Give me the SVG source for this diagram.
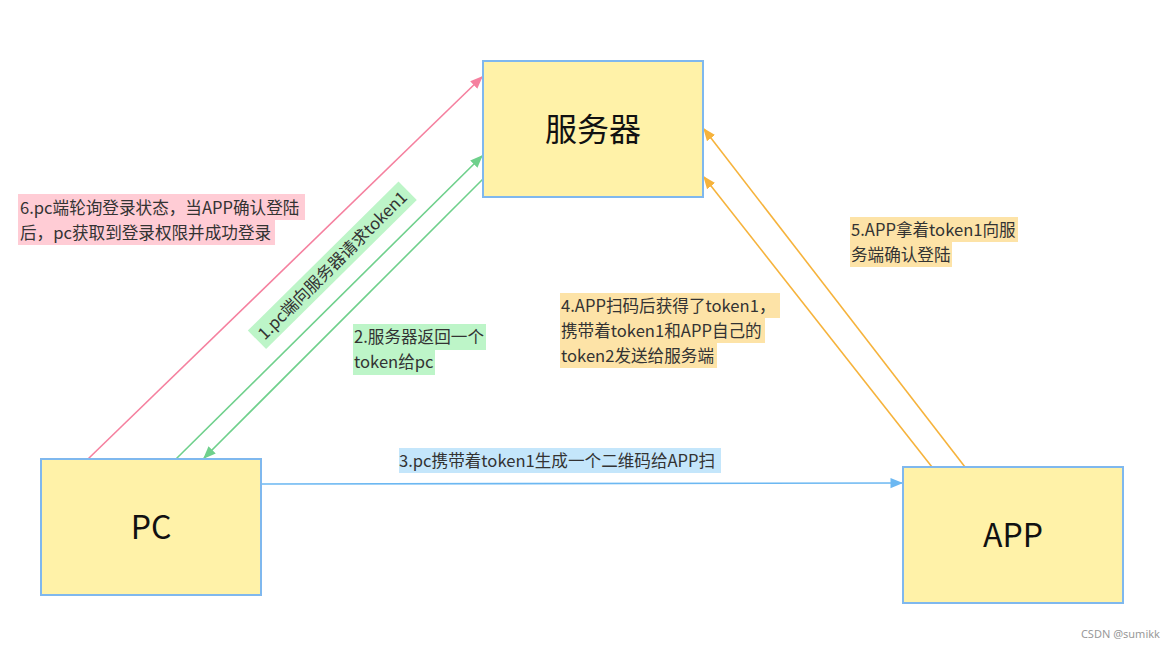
<svg xmlns="http://www.w3.org/2000/svg" width="1173" height="648" viewBox="0 0 1173 648">
<style>
.box{fill:#fff2a8;stroke:#7fb8ee;stroke-width:2}
.big{font-family:"Noto Sans CJK SC","Noto Sans",sans-serif;font-size:32px;fill:#111;text-anchor:middle}
.lbl{font-family:"Noto Sans CJK SC","Noto Sans",sans-serif;font-size:16.6px;fill:#333}
.ln{fill:none;stroke-width:1.6}
</style>
<defs>
<marker id="ag" viewBox="0 0 10 10" refX="9" refY="5" markerWidth="8" markerHeight="8" orient="auto"><path d="M0,1L10,5L0,9z" fill="#6fd08c"/></marker>
<marker id="ap" viewBox="0 0 10 10" refX="9" refY="5" markerWidth="8" markerHeight="8" orient="auto"><path d="M0,1L10,5L0,9z" fill="#f5809f"/></marker>
<marker id="ab" viewBox="0 0 10 10" refX="9" refY="5" markerWidth="8" markerHeight="8" orient="auto"><path d="M0,1L10,5L0,9z" fill="#6cb8f2"/></marker>
<marker id="ao" viewBox="0 0 10 10" refX="9" refY="5" markerWidth="8" markerHeight="8" orient="auto"><path d="M0,1L10,5L0,9z" fill="#f6b33c"/></marker>
</defs>
<rect width="1173" height="648" fill="#fff"/>
<g id="connectors">
<path class="ln" stroke="#f5809f" d="M88,459L482,77" marker-end="url(#ap)"/>
<path class="ln" stroke="#6fd08c" d="M176,459L482,156" marker-end="url(#ag)"/>
<path class="ln" stroke="#6fd08c" d="M483,179L204,458" marker-end="url(#ag)"/>
<path class="ln" stroke="#6cb8f2" d="M262,484L902,483" marker-end="url(#ab)"/>
<path class="ln" stroke="#f6b33c" d="M932,467L704,177" marker-end="url(#ao)"/>
<path class="ln" stroke="#f6b33c" d="M965,467L704,129" marker-end="url(#ao)"/>
</g>
<g id="server"><rect class="box" x="483" y="61" width="220" height="136"/><text class="big" x="593" y="141">服务器</text></g>
<g id="pc"><rect class="box" x="41" y="459" width="220" height="136"/><text class="big" x="151" y="539">PC</text></g>
<g id="app"><rect class="box" x="903" y="467" width="220" height="136"/><text class="big" x="1013" y="547">APP</text></g>
<g id="labels">
<rect x="18" y="194" width="287" height="26" fill="#ffccd5"/><rect x="18" y="220" width="257" height="25" fill="#ffccd5"/>
<text class="lbl" x="20" y="214">6.pc端轮询登录状态，当APP确认登陆</text>
<text class="lbl" x="20" y="239">后，pc获取到登录权限并成功登录</text>
<g transform="translate(333,266) rotate(-44.7)">
<rect x="-106" y="-14" width="212" height="26" fill="#bdf5c8"/>
<text class="lbl" x="0" y="5" text-anchor="middle">1.pc端向服务器请求token1</text>
</g>
<rect x="353" y="324" width="133" height="26" fill="#bdf5c8"/><rect x="353" y="350" width="82" height="25" fill="#bdf5c8"/>
<text class="lbl" x="354" y="343">2.服务器返回一个</text>
<text class="lbl" x="354" y="368">token给pc</text>
<rect x="399" y="448" width="322" height="25" fill="#c4e6fb"/>
<text class="lbl" x="399" y="467">3.pc携带着token1生成一个二维码给APP扫</text>
<rect x="560" y="293" width="220" height="25" fill="#fde3a7"/><rect x="560" y="318" width="205" height="25" fill="#fde3a7"/><rect x="560" y="343" width="157" height="25" fill="#fde3a7"/>
<text class="lbl" x="561" y="312">4.APP扫码后获得了token1，</text>
<text class="lbl" x="561" y="337">携带着token1和APP自己的</text>
<text class="lbl" x="561" y="362">token2发送给服务端</text>
<rect x="850" y="217" width="168" height="25" fill="#fde3a7"/><rect x="850" y="242" width="102" height="25" fill="#fde3a7"/>
<text class="lbl" x="851" y="236">5.APP拿着token1向服</text>
<text class="lbl" x="851" y="261">务端确认登陆</text>
<text x="1160" y="638" text-anchor="end" font-family="Noto Sans,sans-serif" font-size="11" fill="#999">CSDN @sumikk</text>
</g>
</svg>
